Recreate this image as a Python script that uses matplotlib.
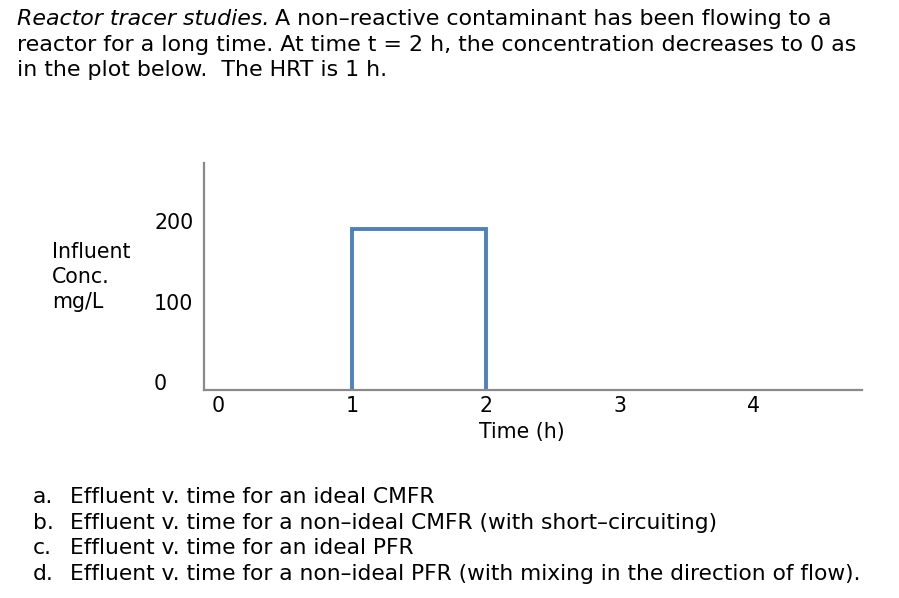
import matplotlib.pyplot as plt

# Influent tracer pulse
time_h = [1, 1, 2, 2]
conc_mgL = [0, 200, 200, 0]

x_ticks = [0, 1, 2, 3, 4]
y_ticks = [0, 100, 200]

intro_lines = [
    "A non\u2013reactive contaminant has been flowing to a",
    "reactor for a long time. At time t = 2 h, the concentration decreases to 0 as",
    "in the plot below.  The HRT is 1 h.",
]
question_keys = ["a.", "b.", "c.", "d."]
question_texts = [
    "Effluent v. time for an ideal CMFR",
    "Effluent v. time for a non\u2013ideal CMFR (with short\u2013circuiting)",
    "Effluent v. time for an ideal PFR",
    "Effluent v. time for a non\u2013ideal PFR (with mixing in the direction of flow).",
]


def main():
    W, H = 899, 598
    fig = plt.figure(figsize=(W / 100, H / 100), dpi=100)
    fs_top = 15.9
    fs_q = 15.7
    fs_ax = 14.8

    def px(x, y):
        return x / W, 1 - y / H

    # axes box in pixels: left 204, right 862, top 163, bottom 390
    ax = fig.add_axes([204 / W, 1 - 390 / H, (862 - 204) / W, (390 - 163) / H])
    ax.plot(time_h, conc_mgL, color="#4f81bd", lw=2.8, solid_joinstyle="miter")

    ax.set_xlim(-0.105, 4.81)
    ax.set_ylim(0, 282)
    for s in ["top", "right"]:
        ax.spines[s].set_visible(False)
    for s in ["left", "bottom"]:
        ax.spines[s].set_color("#8a8a8a")
        ax.spines[s].set_linewidth(1.6)

    ax.set_xticks(x_ticks)
    ax.set_xticklabels([str(v) for v in x_ticks], fontsize=fs_ax)
    ax.set_yticks(y_ticks)
    ax.set_yticklabels([str(v) for v in y_ticks], fontsize=fs_ax)
    ax.tick_params(length=0)
    ax.tick_params(axis="x", pad=4)
    ax.tick_params(axis="y", pad=36)
    for lab in ax.get_yticklabels():
        lab.set_ha("left")
        lab.set_va("baseline")

    fig.text(*px(479, 438), "Time (h)", fontsize=fs_ax, ha="left", va="baseline")
    fig.text(*px(52, 258), "Influent", fontsize=fs_ax, ha="left", va="baseline")
    fig.text(*px(52, 283), "Conc.", fontsize=fs_ax, ha="left", va="baseline")
    fig.text(*px(52, 308), "mg/L", fontsize=fs_ax, ha="left", va="baseline")

    # intro paragraph
    t = fig.text(*px(17, 25), "Reactor tracer studies.", fontsize=fs_top,
                 style="italic", ha="left", va="baseline")
    fig.canvas.draw()
    bb = t.get_window_extent()
    fig.text(bb.x1 / W + 6 / W, 1 - 25 / H, intro_lines[0], fontsize=fs_top,
             ha="left", va="baseline")
    fig.text(*px(17, 51), intro_lines[1], fontsize=fs_top, ha="left", va="baseline")
    fig.text(*px(17, 76), intro_lines[2], fontsize=fs_top, ha="left", va="baseline")

    # questions
    for i, (k, q) in enumerate(zip(question_keys, question_texts)):
        yb = 503 + i * 25.7
        fig.text(*px(33, yb), k, fontsize=fs_q, ha="left", va="baseline")
        fig.text(*px(70, yb), q, fontsize=fs_q, ha="left", va="baseline")

    fig.savefig("out.png", dpi=100)


if __name__ == "__main__":
    main()
